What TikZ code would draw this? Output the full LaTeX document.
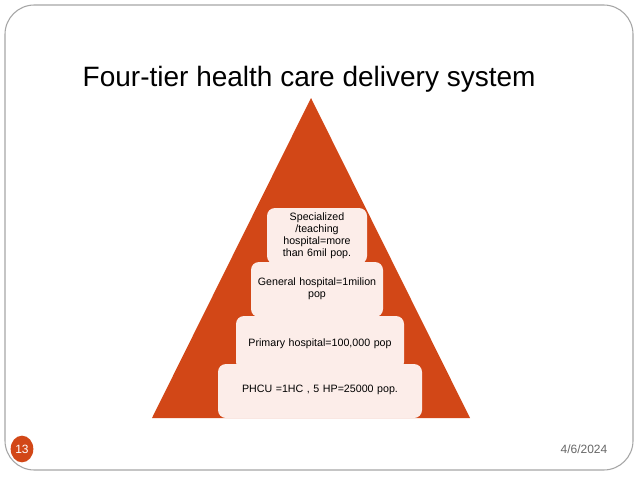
\documentclass[tikz,border=0pt]{standalone}
\usepackage{fontspec}
\setmainfont{Liberation Sans}
\usetikzlibrary{shapes.geometric}
\definecolor{org}{HTML}{D24717}
\definecolor{boxc}{HTML}{FCEDE9}
\tikzset{tier/.style={fill=boxc,rounded corners=6pt,inner sep=0pt},
 lbl/.style={font=\fontsize{8}{9}\selectfont,align=center,text width=#1}}
\begin{document}
\begin{tikzpicture}[x=0.75pt,y=-0.75pt]
\useasboundingbox (0,0) rectangle (638,478);
\fill[white] (0,0) rectangle (638,478);
\draw[gray!70,line width=0.8pt,rounded corners=22pt] (5,5) rectangle (633,470);
\node[anchor=base west,font=\fontsize{21}{24}\selectfont] (title) at (78,86) {Four-tier health care delivery system};
\fill[org] (311,98) -- (470,418) -- (152,418) -- cycle;
\fill[tier] (267,208) rectangle (367,264);
\fill[tier] (251,262) rectangle (383,317);
\fill[tier] (236,316) rectangle (404,370);
\fill[tier] (218,364) rectangle (422,418);
\node[lbl=80pt] (t1) at (317,236) {Specialized\\/teaching\\hospital=more\\than 6mil pop.};
\node[lbl=100pt] (t2) at (317,289) {General hospital=1milion\\pop};
\node[lbl=130pt] (t3) at (320,344) {Primary hospital=100,000 pop};
\node[lbl=150pt] (t4) at (320,390) {PHCU =1HC , 5 HP=25000 pop.};
\node[ellipse,fill=org,minimum width=17pt,minimum height=20pt,inner sep=0pt,text=white,font=\fontsize{9}{10}\selectfont] (num) at (22,449) {13};
\node[anchor=east,text=gray!80!black,font=\fontsize{9}{10}\selectfont] (date) at (612,449) {4/6/2024};
\end{tikzpicture}
\end{document}
